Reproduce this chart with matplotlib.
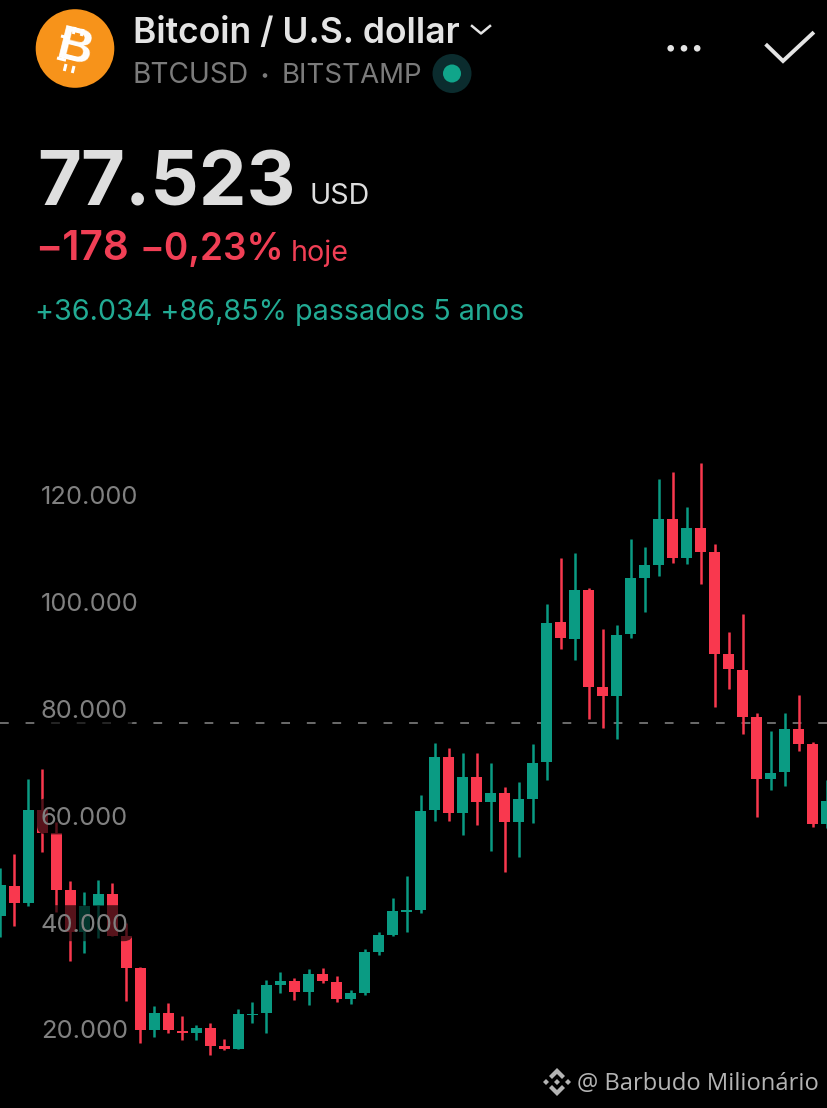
import matplotlib
matplotlib.use('Agg')
import matplotlib.pyplot as plt
from matplotlib.patches import Circle, Polygon, FancyBboxPatch

# BTCUSD candles, prices in thousands of USD
opens = [41.4, 47.0, 43.8, 61.2, 56.9, 46.2, 38.4, 43.3, 45.5, 37.6,
         31.6, 20.0, 23.2, 19.9, 19.4, 20.4, 17.0, 16.4, 22.8, 23.2,
         28.4, 29.2, 27.2, 30.5, 29.0, 25.8, 26.9, 34.6, 37.7, 42.1,
         42.5, 61.2, 71.2, 60.6, 67.4, 62.7, 64.4, 59.0, 63.3, 70.2,
         96.4, 93.3, 102.4, 84.2, 82.5, 94.2, 104.6, 107.1, 115.7, 108.3,
         114.0, 109.5, 90.4, 87.5, 78.6, 67.0, 68.3, 76.4, 73.6, 58.6]
closes = [47.15, 43.8, 61.2, 56.9, 46.2, 38.4, 43.3, 45.5, 37.6, 31.7,
          20.0, 23.2, 20.0, 19.4, 20.4, 17.0, 16.4, 23.0, 23.0, 28.4,
          29.2, 27.2, 30.5, 29.2, 25.8, 26.9, 34.6, 37.7, 42.2, 42.5,
          61.1, 71.2, 60.6, 67.4, 62.7, 64.4, 59.0, 63.3, 70.0, 96.3,
          93.4, 102.4, 84.2, 82.5, 94.0, 104.6, 107.1, 115.7, 108.3, 114.0,
          109.6, 90.4, 87.6, 78.6, 67.0, 68.2, 76.4, 73.6, 58.6, 62.8]
highs = [50.4, 52.9, 67.0, 68.9, 59.0, 47.9, 45.9, 48.1, 47.5, 40.0,
         31.8, 24.5, 25.0, 22.6, 20.9, 21.4, 18.3, 23.9, 25.2, 29.4,
         30.9, 29.7, 31.4, 31.7, 30.1, 27.4, 35.2, 38.4, 44.7, 48.9,
         64.0, 73.7, 72.8, 71.9, 71.9, 70.0, 65.5, 66.4, 73.6, 99.8,
         108.4, 109.3, 102.8, 95.1, 95.8, 112.0, 110.4, 123.2, 124.5, 117.9,
         126.2, 111.0, 94.6, 97.9, 79.3, 76.0, 79.4, 82.7, 73.9, 66.8]
lows = [37.4, 39.5, 43.3, 53.4, 42.1, 33.0, 34.4, 37.2, 37.6, 25.4,
        17.6, 18.7, 19.5, 18.1, 18.1, 15.4, 16.2, 16.4, 21.3, 19.5,
        26.9, 25.6, 24.7, 28.8, 25.2, 24.9, 26.6, 34.0, 37.6, 38.4,
        41.9, 59.2, 59.1, 56.5, 58.4, 53.5, 49.5, 52.4, 58.8, 66.8,
        91.3, 89.2, 78.2, 76.6, 74.5, 93.5, 98.3, 105.1, 107.4, 107.3,
        103.5, 80.5, 83.9, 75.5, 59.9, 65.0, 65.7, 72.3, 58.1, 57.8]
tick_values = [20, 40, 60, 80, 100, 120]
tick_labels = ['20.000', '40.000', '60.000', '80.000', '100.000', '120.000']
last_price = 77.523

GREEN = '#0a9b83'
RED = '#f9384e'
WIDTH = 828
HEIGHT = 1108

plt.rcParams['font.family'] = ['Inter', 'DejaVu Sans']

fig = plt.figure(figsize=(WIDTH / 100, HEIGHT / 100), dpi=100, facecolor='black')

# chart axes fill the whole screenshot, y calibrated on the tick labels
ax = fig.add_axes([0, 0, 1, 1], facecolor='black')
ax.set_xlim(-0.02, 59.08)
ax.set_ylim(5.39, 212.885)
ax.axis('off')

# overlay in screen pixels for header furniture
ui = fig.add_axes([0, 0, 1, 1], facecolor='none', zorder=10)
ui.set_xlim(0, WIDTH)
ui.set_ylim(HEIGHT, 0)
ui.axis('off')

colors = [GREEN if c >= o else RED for o, c in zip(opens, closes)]
xs = list(range(len(opens)))
ax.axhline(last_price, color='#6b6b6b', lw=1.4, dashes=(4.5, 8.65), zorder=1)
ax.vlines(xs, lows, highs, colors=colors, lw=1.8, zorder=2)
ax.bar(xs, [abs(c - o) for o, c in zip(opens, closes)],
       bottom=[min(o, c) for o, c in zip(opens, closes)],
       width=0.78, color=colors, zorder=3)

for value, label in zip(tick_values, tick_labels):
    ypx = ui.transData.inverted().transform(ax.transData.transform((0, value)))[1]
    # dark plate behind the label, dims the candles under it
    ax.add_patch(FancyBboxPatch((41, ypx - 14), 88, 28, boxstyle='round,pad=4,rounding_size=9',
                                fc='black', ec='none', alpha=0.65, zorder=4, transform=ui.transData))
    ax.text(41, ypx + 2, label, transform=ui.transData, ha='left', va='center',
            fontsize=18.4, color='#808080', zorder=5)

# coin logo
ui.add_patch(Circle((75, 48.5), 39.3, fc='#f7931a', ec='none'))
ui.text(74.5, 49, 'B', fontsize=35, fontweight='bold', color='white', rotation=-14,
        ha='center', va='center', family='Liberation Sans')
for x0, y0 in [(75, 27), (83, 29), (66, 64), (74, 66)]:
    ui.plot([x0, x0 - 1.7], [y0, y0 + 7], color='white', lw=2.2, solid_capstyle='butt')
for x0, y0 in [(61, 36), (57, 58)]:
    ui.plot([x0, x0 + 9], [y0, y0 + 2.2], color='white', lw=2.2, solid_capstyle='butt')

ui.text(133, 43, 'Bitcoin / U.S. dollar', fontsize=25.5, fontweight='semibold', color='#e4e4e4', va='baseline')
ui.plot([472, 481, 490], [26, 33.5, 26], color='#e4e4e4', lw=1.8)
ui.text(133, 83, 'BTCUSD', fontsize=20.2, color='#7b7b7b', va='baseline')
ui.add_patch(Circle((265, 75.5), 2.3, fc='#7b7b7b', ec='none'))
ui.text(282, 83, 'BITSTAMP', fontsize=19.9, color='#7b7b7b', va='baseline')
ui.add_patch(Circle((452, 73.5), 19.5, fc='#0b2c2e', ec='none'))
ui.add_patch(Circle((452, 73.5), 9, fc='#10a58a', ec='none'))

# menu dots and check mark
for x0 in [670.7, 684, 697.2]:
    ui.add_patch(Circle((x0, 48.3), 3.3, fc='#e4e4e4', ec='none'))
ui.plot([767, 783, 812.5], [45.5, 61, 33.5], color='#e4e4e4', lw=2.8, solid_joinstyle='miter')

# quote block
ui.text(37, 205, '77.523', fontsize=54.6, fontweight='bold', color='#dedede', va='baseline')
ui.text(309.5, 203.5, 'USD', fontsize=20.6, color='#dedede', va='baseline')
ui.text(35.5, 260, '\u2212178', fontsize=29.2, fontweight='semibold', color='#f03f55', va='baseline')
ui.text(140, 260, '\u22120,23%', fontsize=26.6, fontweight='semibold', color='#f03f55', va='baseline')
ui.text(290.5, 261, 'hoje', fontsize=20.6, color='#f03f55', va='baseline')
ui.text(35, 320.5, '+36.034 +86,85% passados 5 anos', fontsize=20.7, color='#22ab94', va='baseline')

# watermark
WM = '#b4b4b4'
cx, cy = 557, 1082
ui.add_patch(Polygon([(cx, cy - 14), (cx + 8, cy - 6), (cx + 5, cy - 3), (cx, cy - 8), (cx - 5, cy - 3), (cx - 8, cy - 6)], fc=WM, ec='none'))
ui.add_patch(Polygon([(cx, cy + 14), (cx + 8, cy + 6), (cx + 5, cy + 3), (cx, cy + 8), (cx - 5, cy + 3), (cx - 8, cy + 6)], fc=WM, ec='none'))
ui.add_patch(Polygon([(cx, cy - 3), (cx + 3, cy), (cx, cy + 3), (cx - 3, cy)], fc=WM, ec='none'))
for dx in (-11, 11):
    ui.add_patch(Polygon([(cx + dx, cy - 3), (cx + dx + 3, cy), (cx + dx, cy + 3), (cx + dx - 3, cy)], fc=WM, ec='none'))
ui.text(577, 1090, '@ Barbudo Milionário', fontsize=17.1, color=WM, va='baseline', family='Open Sans')

fig.savefig('out.png', dpi=100, facecolor='black')
